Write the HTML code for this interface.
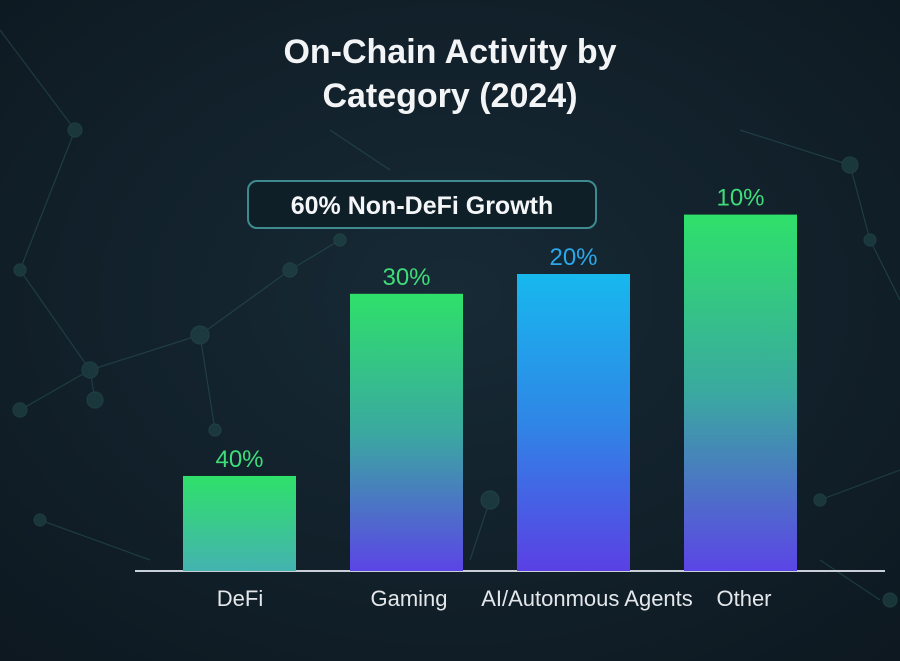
<!DOCTYPE html>
<html><head><meta charset="utf-8"><style>
html,body{margin:0;padding:0;width:900px;height:661px;overflow:hidden;background:#111d28;}
svg{display:block;}
text{font-family:"Liberation Sans",sans-serif;}
</style></head><body>
<svg id="chart" width="900" height="661" viewBox="0 0 900 661">
<defs>
<radialGradient id="bg" cx="0.5" cy="0.45" r="0.75">
<stop offset="0" stop-color="#172a36"/><stop offset="1" stop-color="#0d1820"/></radialGradient>
<linearGradient id="gGreenPurple" x1="0" y1="0" x2="0" y2="1">
<stop offset="0" stop-color="#2fe06a"/><stop offset="0.5" stop-color="#3aa9a0"/><stop offset="1" stop-color="#5b45e6"/></linearGradient>
<linearGradient id="gGreenTeal" x1="0" y1="0" x2="0" y2="1">
<stop offset="0" stop-color="#2fe06a"/><stop offset="1" stop-color="#44b3b0"/></linearGradient>
<linearGradient id="gBluePurple" x1="0" y1="0" x2="0" y2="1">
<stop offset="0" stop-color="#17b8ee"/><stop offset="0.5" stop-color="#2f86e6"/><stop offset="1" stop-color="#5a40e4"/></linearGradient>
</defs>
<rect width="900" height="661" fill="url(#bg)"/>
<g id="network" opacity="0.5" stroke="#2c5a5a" stroke-width="1.2" fill="#24504e">
<line x1="0" y1="30" x2="75" y2="130"/><line x1="75" y1="130" x2="20" y2="270"/><line x1="20" y1="270" x2="90" y2="370"/>
<line x1="90" y1="370" x2="200" y2="335"/><line x1="200" y1="335" x2="290" y2="270"/><line x1="200" y1="335" x2="215" y2="430"/>
<line x1="90" y1="370" x2="95" y2="400"/><line x1="20" y1="410" x2="90" y2="370"/><line x1="290" y1="270" x2="340" y2="240"/>
<line x1="740" y1="130" x2="850" y2="165"/><line x1="850" y1="165" x2="870" y2="240"/><line x1="870" y1="240" x2="900" y2="300"/>
<line x1="820" y1="500" x2="900" y2="470"/><line x1="880" y1="600" x2="820" y2="560"/><line x1="40" y1="520" x2="150" y2="560"/>
<line x1="490" y1="500" x2="470" y2="560"/><line x1="330" y1="130" x2="390" y2="170"/>
<circle cx="75" cy="130" r="7"/><circle cx="20" cy="270" r="6"/><circle cx="90" cy="370" r="8"/><circle cx="200" cy="335" r="9"/>
<circle cx="290" cy="270" r="7"/><circle cx="215" cy="430" r="6"/><circle cx="20" cy="410" r="7"/><circle cx="850" cy="165" r="8"/>
<circle cx="870" cy="240" r="6"/><circle cx="820" cy="500" r="6"/><circle cx="490" cy="500" r="9"/><circle cx="40" cy="520" r="6"/>
<circle cx="890" cy="600" r="7"/><circle cx="340" cy="240" r="6"/><circle cx="95" cy="400" r="8"/>
</g>
<text x="450" y="63" text-anchor="middle" fill="#f2f4f6" font-size="34" font-weight="bold">On-Chain Activity by</text>
<text x="450" y="107" text-anchor="middle" fill="#f2f4f6" font-size="34" font-weight="bold">Category (2024)</text>
<rect x="248" y="181" width="348" height="47" rx="9" fill="#0f1f28" stroke="#3e8a8e" stroke-width="2"/>
<text x="422" y="214" text-anchor="middle" fill="#f4f6f8" font-size="25" font-weight="bold">60% Non-DeFi Growth</text>
<line x1="135" y1="571" x2="885" y2="571" stroke="#c9cfd6" stroke-width="2"/>
<g id="bars"></g>
</svg>
<script>
const categories = ["DeFi", "Gaming", "AI/Autonmous Agents", "Other"];
const barValues = [24, 70, 75, 90];
const valueLabels = ["40%", "30%", "20%", "10%"];

const baseY = 571, plotH = 396, yMax = 100;
const left = 183, pitch = 167, barW = 113;
function yScale(v){ return baseY - v / yMax * plotH; }
function xScale(i){ return left + i * pitch; }
const fills = ["url(#gGreenTeal)","url(#gGreenPurple)","url(#gBluePurple)","url(#gGreenPurple)"];
const labelColors = ["#3fdc7a","#3fdc7a","#2aa8ea","#3fdc7a"];
const ns = "http://www.w3.org/2000/svg";
const g = document.getElementById("bars");
categories.forEach((c, i) => {
  const x = xScale(i), y = yScale(barValues[i]);
  const r = document.createElementNS(ns, "rect");
  r.setAttribute("x", x); r.setAttribute("y", y);
  r.setAttribute("width", barW); r.setAttribute("height", baseY - y);
  r.setAttribute("fill", fills[i]);
  
  
  g.appendChild(r);
  const t = document.createElementNS(ns, "text");
  t.setAttribute("x", x + barW / 2); t.setAttribute("y", y - 9);
  t.setAttribute("text-anchor", "middle"); t.setAttribute("font-size", "24");
  t.setAttribute("fill", labelColors[i]);
  t.textContent = valueLabels[i];
  
  
  g.appendChild(t);
});
const catX = [240, 409, 587, 744];
categories.forEach((c, i) => {
  const t = document.createElementNS(ns, "text");
  t.setAttribute("x", catX[i]); t.setAttribute("y", 606);
  t.setAttribute("text-anchor", "middle"); t.setAttribute("font-size", "22");
  t.setAttribute("fill", "#e4e7ea");
  t.textContent = c;
  
  
  g.appendChild(t);
});
</script>
</body></html>
